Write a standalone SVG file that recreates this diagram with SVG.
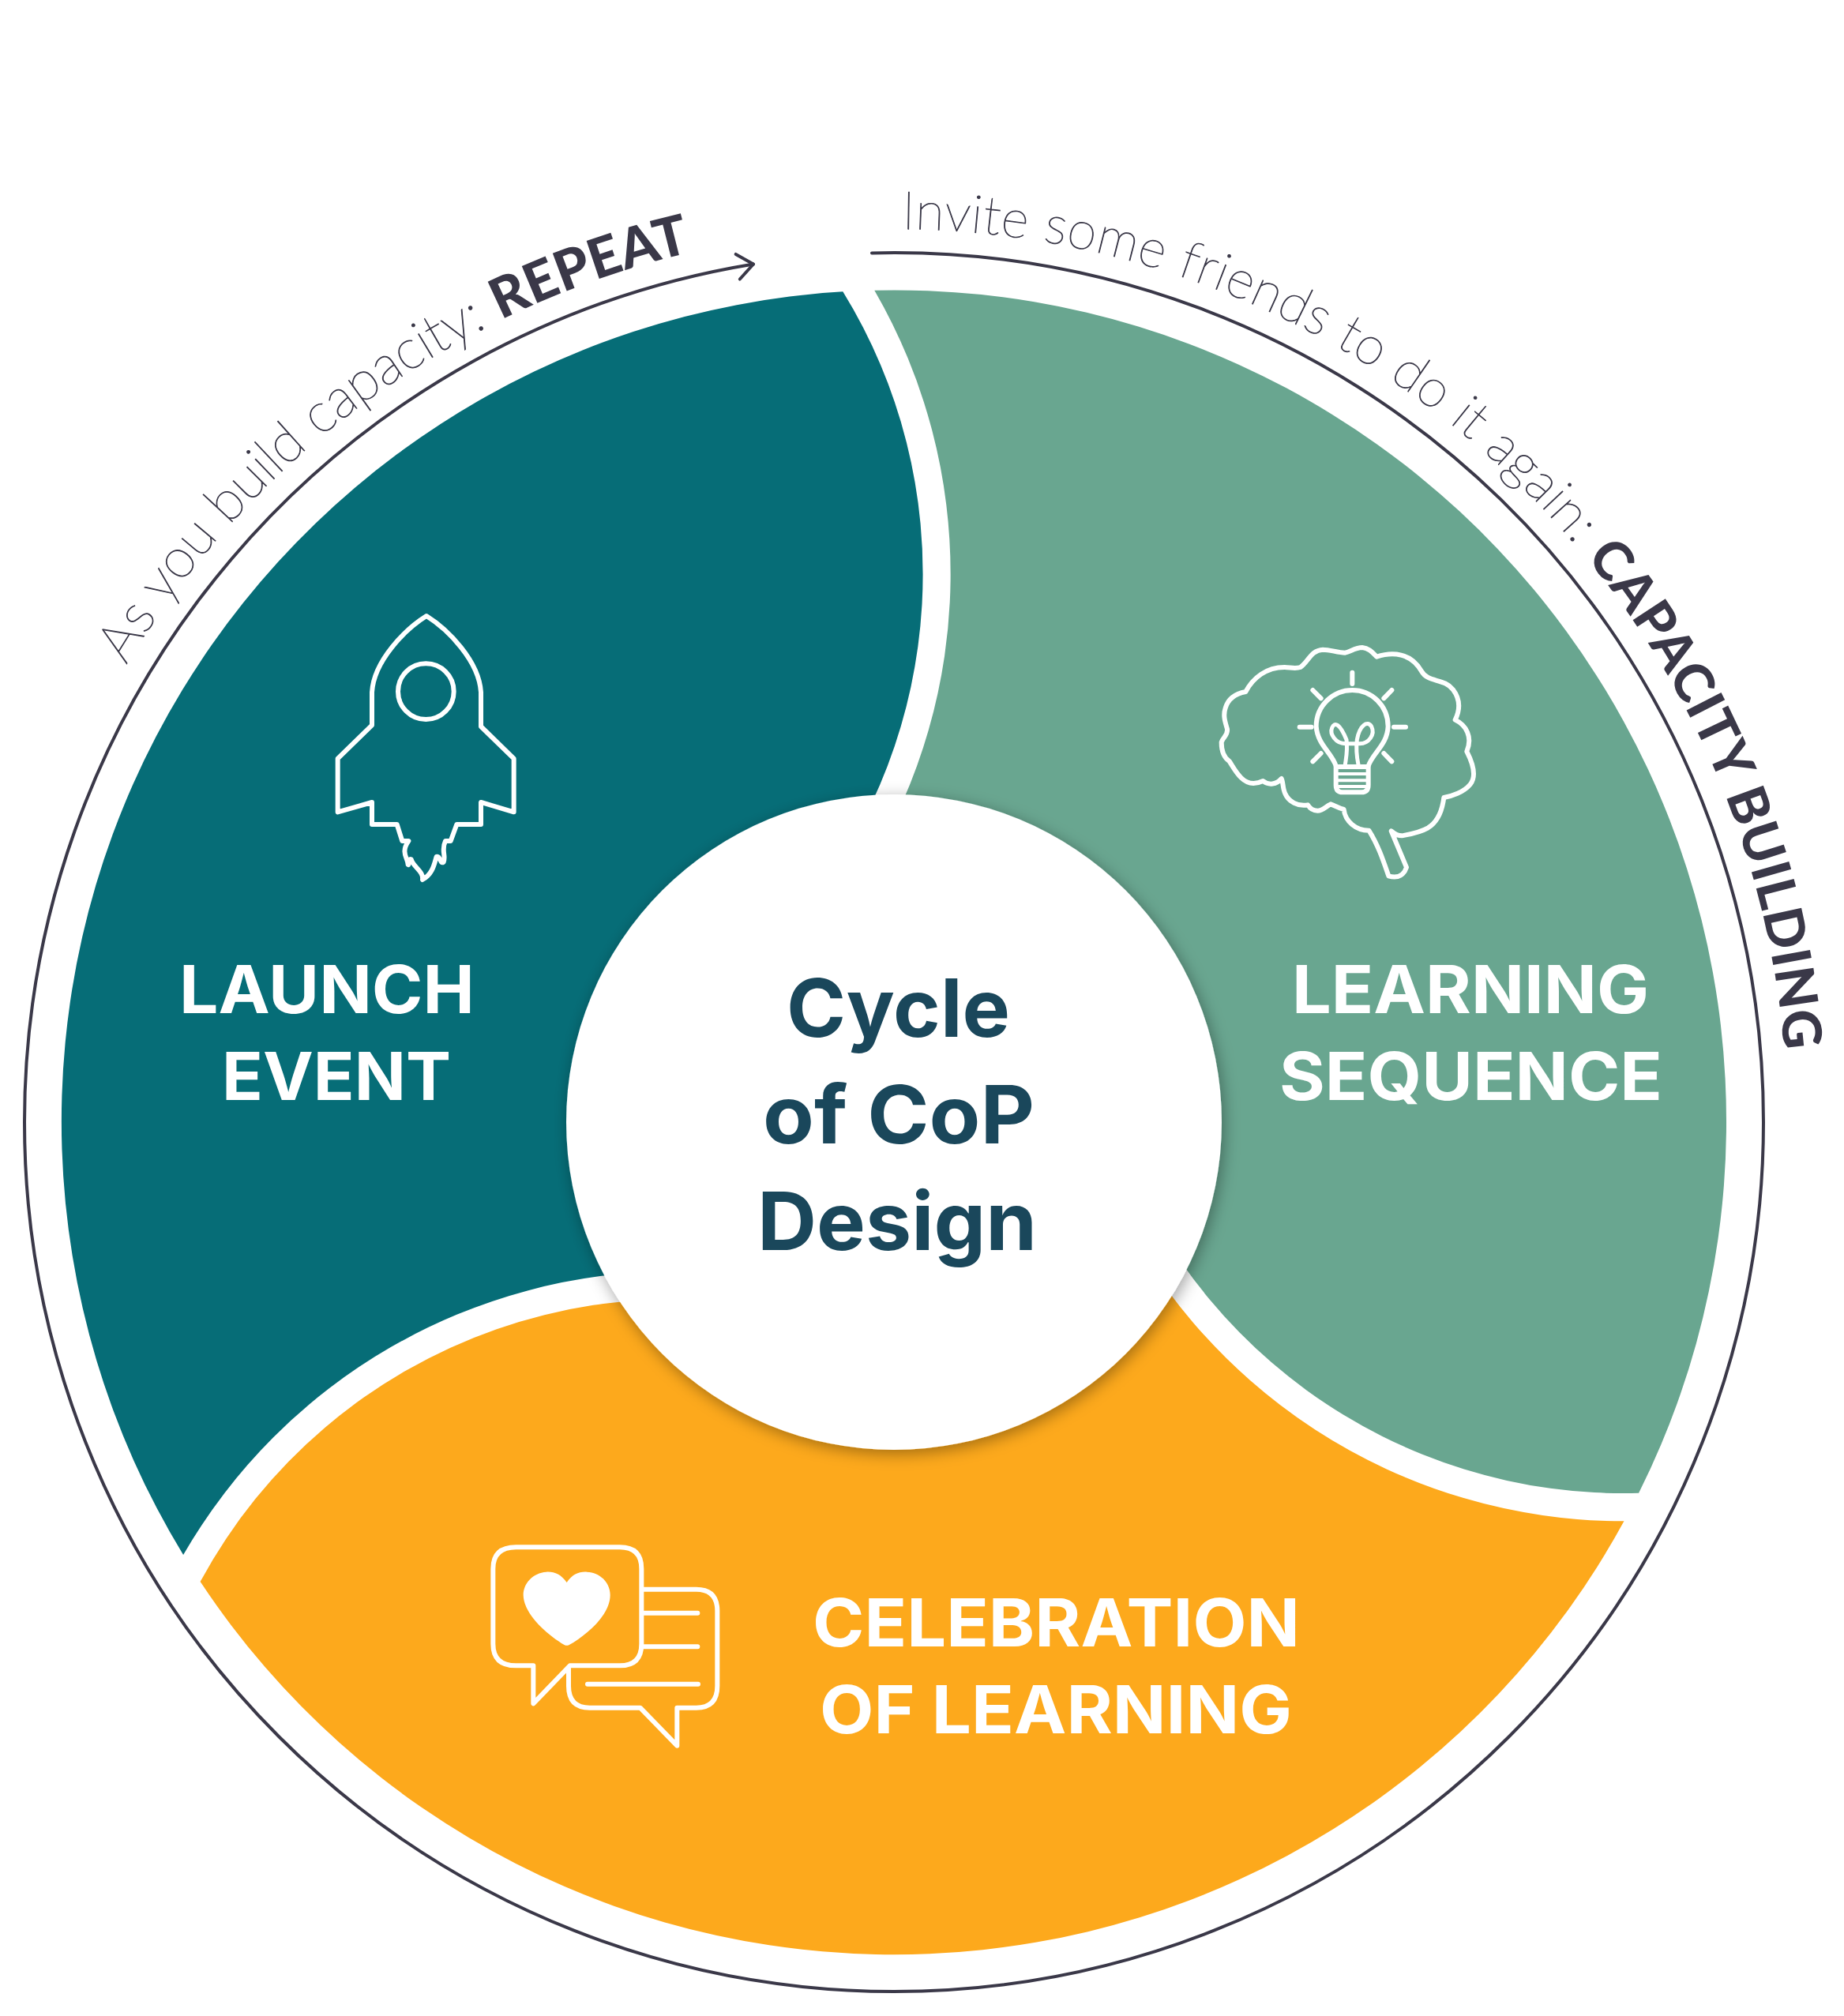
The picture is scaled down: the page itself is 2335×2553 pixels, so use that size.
<svg xmlns="http://www.w3.org/2000/svg" width="2335" height="2553" viewBox="0 0 2335 2553">
<style>
.label{font-family:"Inter","Lato","Liberation Sans",sans-serif;font-weight:700;font-size:83.5px;fill:#fff}
.title{font-family:"Inter","Lato","Liberation Sans",sans-serif;font-weight:700;font-size:102px;fill:#1a475b}
.thin{font-family:"Lato","Roboto",sans-serif;font-weight:100;fill:#3a3848;stroke:#3a3848;stroke-width:1}
.strong{font-family:"Lato","Liberation Sans",sans-serif;font-weight:900;fill:#3a3848}
.icon{fill:none;stroke:#fff;stroke-width:18;stroke-linecap:round;stroke-linejoin:round}
.ring{fill:none;stroke:#3a3848;stroke-width:4;stroke-linecap:round}
</style>
<defs>
<path id="arcLeft" d="M160,842 A1131,1131 0 0 1 1132,290"/>
<path id="arcRight" d="M1142,290 A1131,1131 0 0 1 2263,1421"/>
<marker id="chev" markerUnits="userSpaceOnUse" markerWidth="50" markerHeight="50" refX="40" refY="25" orient="auto" overflow="visible"><path d="M20,9 L40,25 L20,41" fill="none" stroke="#3a3848" stroke-width="4" stroke-linecap="round" stroke-linejoin="round"/></marker>
<filter id="shadow" x="-20%" y="-20%" width="140%" height="140%"><feDropShadow dx="3" dy="5" stdDeviation="10" flood-color="#000" flood-opacity="0.36"/></filter>
</defs>
<rect width="2335" height="2553" fill="#fff"/>
<g id="node-launch">
<path d="M232.1,1969 A1053,1053 0 0 1 1067.3,369.3 A682,682 0 0 1 1021.5,1150 L1132,1421 L853.7,1610 A717,717 0 0 0 232.1,1969 Z" fill="#066d77"/>
<g class="icon" transform="translate(380 740) scale(.33333)">
<path d="M480,120 C560,170 680,290 687,410 L687,540 L812,662 L812,865 L687,828 L687,912 L595,912 L572,975 L552,975 C535,1010 555,1030 545,1055 C530,1065 535,1030 518,1035 C510,1060 505,1100 465,1122 C470,1090 430,1075 422,1045 C410,1040 415,1070 410,1065 C410,1040 380,1020 412,975 L388,975 L368,912 L273,912 L273,828 L143,865 L143,662 L273,535 L273,410 C280,290 400,170 480,120 Z"/>
<circle cx="478" cy="407" r="106"/>
</g>
<text class="label" x="227" y="1282.7" textLength="374" lengthAdjust="spacingAndGlyphs">LAUNCH</text>
<text class="label" x="281" y="1392.7" textLength="290" lengthAdjust="spacingAndGlyphs">EVENT</text>
</g>
<g id="node-learning">
<path d="M1107.3,367.7 A1053,1053 0 0 1 2075.1,1890.8 A682,682 0 0 1 1401,1400 L1132,1300 L1098.8,1100 A717,717 0 0 0 1107.3,367.7 Z" fill="#69a690"/>
<g class="icon" transform="translate(1500 790) scale(.33333)">
<path d="M730,125 C790,105 860,110 900,180 C925,225 985,205 1020,250 C1050,290 1045,330 1028,365 C1070,385 1095,430 1072,485 C1095,530 1110,580 1085,610 C1060,640 1015,655 985,660 C980,700 965,750 925,775 C890,795 850,800 825,805 C805,805 795,795 785,787 L843,925 C835,950 815,970 775,958 C755,900 735,840 700,785 C650,785 610,750 605,705 C585,700 570,690 555,685 C535,695 525,710 505,710 C485,710 475,700 468,688 C430,695 395,675 382,645 C372,625 375,600 368,588 C350,610 320,615 298,597 C270,610 240,610 215,585 C195,565 185,545 170,522 C145,505 140,480 140,450 C145,430 165,425 162,400 C155,375 145,350 155,320 C165,285 195,265 232,258 C260,205 310,165 380,165 C400,165 420,172 440,165 C470,145 480,100 525,98 C555,98 580,110 610,110 C630,105 650,90 675,90 C700,92 715,110 730,125 Z"/>
<path d="M575,540 C560,490 505,460 500,390 C500,310 565,252 637,252 C710,252 773,310 773,390 C770,460 715,490 698,540"/>
<path d="M575,543 H698 V612 Q698,640 672,640 H600 Q575,640 575,612 Z"/>
<path d="M580,570 H692 M580,595 H692 M585,618 H690" stroke-width="12"/>
<path d="M610,535 C615,500 620,480 615,440 C590,380 570,370 560,395 C550,420 575,455 610,455 H665 C700,455 725,420 710,390 C695,365 665,385 655,440 C650,480 655,510 660,535" stroke-width="15"/>
<path d="M637,185 V228 M487,252 L518,283 M787,252 L757,283 M437,392 H482 M795,392 H840 M487,523 L518,492 M787,523 L757,492"/>
</g>
<text class="label" x="1636" y="1282.7" textLength="452" lengthAdjust="spacingAndGlyphs">LEARNING</text>
<text class="label" x="1620" y="1392.7" textLength="485" lengthAdjust="spacingAndGlyphs">SEQUENCE</text>
</g>
<g id="node-celebration">
<path d="M2056.5,1926.3 A1053,1053 0 0 1 253.6,2002.9 A682,682 0 0 1 1121.7,1700 L1132,1500 L1400.7,1500 A717,717 0 0 0 2056.5,1926.3 Z" fill="#fda91c"/>
<g class="icon" transform="translate(600 1930) scale(.33333)">
<path d="M160,88 H555 Q637,88 637,170 V455 Q637,538 555,538 H365 L226,682 V538 H160 Q73,538 73,455 V170 Q73,88 160,88 Z"/>
<path d="M645,248 H845 Q925,248 925,330 V615 Q925,698 845,698 H772 V842 L632,698 H440 Q360,698 360,615 V550"/>
<path d="M645,338 H850 M645,466 H850 M432,608 H852"/>
<path d="M353,222 C330,190 305,180 275,182 C225,185 188,225 188,270 C190,340 270,415 345,460 Q353,463 361,460 C430,420 518,345 518,270 C518,225 480,182 430,182 C400,180 375,190 353,222 Z" fill="#fff" stroke="none"/>
</g>
<text class="label" x="1029" y="2084.5" textLength="617" lengthAdjust="spacingAndGlyphs">CELEBRATION</text>
<text class="label" x="1038" y="2194.5" textLength="598" lengthAdjust="spacingAndGlyphs">OF LEARNING</text>
</g>
<g id="node-center">
<circle cx="1132" cy="1421" r="415" fill="#fff" filter="url(#shadow)"/>
<text class="title" x="996" y="1312.7" textLength="283" lengthAdjust="spacingAndGlyphs">Cycle</text>
<text class="title" x="966" y="1447.7" textLength="344" lengthAdjust="spacingAndGlyphs">of CoP</text>
<text class="title" x="959" y="1582.7" textLength="354" lengthAdjust="spacingAndGlyphs">Design</text>
</g>
<g id="connectors">
<path class="ring" d="M1104,320.4 A1101,1101 0 0 1 2233,1421 A1101,1101 0 0 1 1132,2522 A1101,1101 0 0 1 31,1421 A1101,1101 0 0 1 954,334.5" marker-end="url(#chev)"/>
</g>
<g id="captions">
<text font-size="70" letter-spacing="-0.4"><textPath href="#arcLeft"><tspan class="thin">As you build capacity: </tspan><tspan class="strong" font-size="70" letter-spacing="0">REPEAT</tspan></textPath></text>
<text font-size="67" letter-spacing="0.7"><textPath href="#arcRight"><tspan class="thin">Invite some friends to do it again: </tspan><tspan class="strong" font-size="68" letter-spacing="0.9">CAPACITY BUILDING</tspan></textPath></text>
</g>
</svg>
